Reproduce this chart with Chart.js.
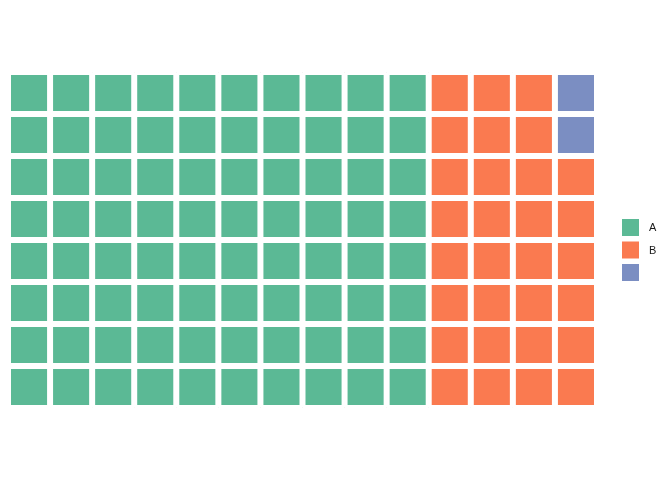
<!DOCTYPE html>
<html>
<head>
<meta charset="utf-8">
<script src="https://cdn.jsdelivr.net/npm/chart.js@4"></script>
<style>
  html, body { margin: 0; padding: 0; background: #fff; }
  #wrap { width: 672px; height: 480px; }
</style>
</head>
<body>
<div id="wrap"><canvas id="waffleChart"></canvas></div>
<script>
// waffle data: categories and number of squares each
var categories = ['A', 'B', ''];
var counts = [80, 30, 2];
var colors = ['#5BB995', '#FA7A50', '#7B8EC2'];
var nCols = 14;
var nRows = 8;

// column labels for the category axis
var columns = [];
for (var c = 0; c < nCols; c++) columns.push('c' + (c + 1));

// category of each square, filled column by column from bottom to top
var cellCat = [];
counts.forEach(function (n, i) {
    for (var k = 0; k < n; k++) cellCat.push(i);
});

// one stacked dataset per row (row 0 = bottom)
var datasets = [];
for (var r = 0; r < nRows; r++) {
    var bg = [];
    var vals = [];
    for (var c = 0; c < nCols; c++) {
        var cat = cellCat[c * nRows + r];
        bg.push(cat === undefined ? 'rgba(0,0,0,0)' : colors[cat]);
        vals.push(1);
    }
    datasets.push({
        label: 'row' + (r + 1),
        data: vals,
        backgroundColor: bg,
        borderColor: '#ffffff',
        borderWidth: 3,
        borderSkipped: false,
        inflateAmount: 0,
        barPercentage: 1,
        categoryPercentage: 1
    });
}

// faint panel frame behind the squares
var framePlugin = {
    id: 'frame',
    beforeDatasetsDraw: function (chart) {
        var a = chart.chartArea;
        var ctx = chart.ctx;
        ctx.save();
        ctx.strokeStyle = '#eeeeee';
        ctx.lineWidth = 1;
        ctx.strokeRect(a.left + 0.5, a.top + 0.5, a.right - a.left - 1, a.bottom - a.top - 1);
        ctx.restore();
    }
};

// legend drawn to the right of the grid
var legendPlugin = {
    id: 'waffleLegend',
    afterDraw: function (chart) {
        var a = chart.chartArea;
        var ctx = chart.ctx;
        var box = 17, pitch = 22.5;
        var x = a.right + 25;
        var y0 = (a.top + a.bottom) / 2 + 10 - (categories.length * pitch - (pitch - box)) / 2;
        ctx.save();
        ctx.font = '11px "Liberation Sans", Arial, sans-serif';
        ctx.textBaseline = 'middle';
        categories.forEach(function (name, i) {
            var y = y0 + i * pitch;
            ctx.fillStyle = colors[i];
            ctx.fillRect(x, y, box, box);
            ctx.fillStyle = '#1a1a1a';
            ctx.fillText(name, x + box + 10, y + box / 2 + 0.5);
        });
        ctx.restore();
    }
};

var waffle = new Chart(document.getElementById('waffleChart'), {
    type: 'bar',
    data: {
        labels: columns,
        datasets: datasets
    },
    options: {
        responsive: true,
        maintainAspectRatio: false,
        animation: false,
        layout: {
            padding: { top: 72, bottom: 72, left: 8, right: 75 }
        },
        plugins: {
            legend: { display: false },
            tooltip: { enabled: false }
        },
        scales: {
            x: { stacked: true, display: false },
            y: { stacked: true, display: false, min: 0, max: nRows }
        }
    },
    plugins: [framePlugin, legendPlugin]
});
</script>
</body>
</html>
